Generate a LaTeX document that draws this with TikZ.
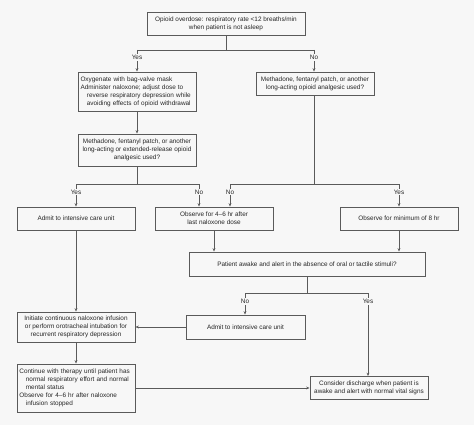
\documentclass[tikz,border=0pt]{standalone}
\usepackage{fontspec}
\setmainfont{Liberation Sans}
\usetikzlibrary{arrows.meta}
\definecolor{bg}{HTML}{F7F7F7}
\definecolor{ln}{HTML}{5A5A5A}
\definecolor{tx}{HTML}{262626}
\begin{document}
\begin{tikzpicture}[x=1pt,y=-1pt,
  box/.style={draw=ln, line width=0.9pt, fill=bg, inner sep=2pt, font=\fontsize{6.4}{8}\selectfont, text=tx, align=center, minimum width=118pt, minimum height=23pt},
  lbox/.style={box, align=left, text width=113pt, inner xsep=2.5pt},
  conn/.style={draw=ln, line width=0.9pt},
  arr/.style={conn, -{Stealth[length=3.4pt,width=2.8pt]}},
  lab/.style={fill=bg, inner sep=0.8pt, font=\fontsize{6.4}{7}\selectfont, text=tx}]
\fill[bg] (0,0) rectangle (474,425);
\useasboundingbox (0,0) rectangle (474,425);

\node[box, minimum width=158pt] (b1) at (226,23.5) {Opioid overdose: respiratory rate <12 breaths/min\\when patient is not asleep};
\node[lbox, minimum height=39pt] (b2) at (137,91.5) {Oxygenate with bag-valve mask\\Administer naloxone; adjust dose to\\\hspace*{1em}reverse respiratory depression while\\\hspace*{1em}avoiding effects of opioid withdrawal};
\node[box] (b3) at (315,83.5) {Methadone, fentanyl patch, or another\\long-acting opioid analgesic used?};
\node[box, minimum height=32pt] (b4) at (137,150) {Methadone, fentanyl patch, or another\\long-acting or extended-release opioid\\analgesic used?};
\node[box] (b5) at (76,218.5) {Admit to intensive care unit};
\node[box] (b6) at (214,218.5) {Observe for 4--6 hr after\\last naloxone dose};
\node[box] (b7) at (399,218.5) {Observe for minimum of 8 hr};
\node[box, minimum width=236pt, minimum height=24pt] (b8) at (307,264) {Patient awake and alert in the absence of oral or tactile stimuli?};
\node[box, minimum width=119pt, minimum height=24pt] (b9) at (245.5,327) {Admit to intensive care unit};
\node[box, minimum height=30pt] (b10) at (76,327) {Initiate continuous naloxone infusion\\or perform orotracheal intubation for\\recurrent respiratory depression};
\node[lbox, minimum height=48pt] (b11) at (76,388) {Continue with therapy until patient has\\\hspace*{1em}normal respiratory effort and normal\\\hspace*{1em}mental status\\Observe for 4--6 hr after naloxone\\\hspace*{1em}infusion stopped};
\node[box] (b12) at (369,388) {Consider discharge when patient is\\awake and alert with normal vital signs};

% branch 1
\coordinate (j1) at (226,50);
\coordinate (j1L) at (137,50);
\coordinate (j1R) at (314,50);
\draw[conn] (b1.south) -- (j1);
\draw[conn] (j1L) -- (j1R);
\draw[arr] (j1L) -- (j1L |- b2.north);
\draw[arr] (j1R) -- (j1R |- b3.north);
\node[lab] (l1) at (137,57.5) {Yes};
\node[lab] (l2) at (314,57.5) {No};

\draw[arr] (b2.south) -- (b4.north);

% branch 2 (right)
\coordinate (j2) at (314,184);
\coordinate (j2L) at (230,184);
\coordinate (j2R) at (399,184);
\draw[conn] (j1R |- b3.south) -- (j2);
\draw[conn] (j2L) -- (j2R);
\draw[arr] (j2L) -- (j2L |- b6.north);
\draw[arr] (j2R) -- (j2R |- b7.north);

% branch 3 (left)
\coordinate (j3) at (137,184);
\coordinate (j3L) at (76,184);
\coordinate (j3R) at (199,184);
\draw[conn] (b4.south) -- (j3);
\draw[conn] (j3L) -- (j3R);
\draw[arr] (j3L) -- (j3L |- b5.north);
\draw[arr] (j3R) -- (j3R |- b6.north);
\node[lab] (l3) at (76,192) {Yes};
\node[lab] (l4) at (199,192) {No};
\node[lab] (l5) at (230,192) {No};
\node[lab] (l6) at (399,192) {Yes};

\draw[arr] (b6.south) -- (b6.south |- b8.north);
\draw[arr] (b7.south) -- (b7.south |- b8.north);

% branch 4
\coordinate (j4) at (307,293);
\coordinate (j4L) at (245,293);
\coordinate (j4R) at (368,293);
\draw[conn] (b8.south) -- (j4);
\draw[conn] (j4L) -- (j4R);
\draw[arr] (j4L) -- (j4L |- b9.north);
\draw[arr] (j4R) -- (j4R |- b12.north);
\node[lab] (l7) at (245,301.5) {No};
\node[lab] (l8) at (368,301.5) {Yes};

\draw[arr] (b5.south) -- (b10.north);
\draw[arr] (b9.west) -- (b10.east);
\draw[arr] (b10.south) -- (b11.north);
\draw[arr] (b11.east) -- (b11.east -| b12.west);
\end{tikzpicture}
\end{document}
